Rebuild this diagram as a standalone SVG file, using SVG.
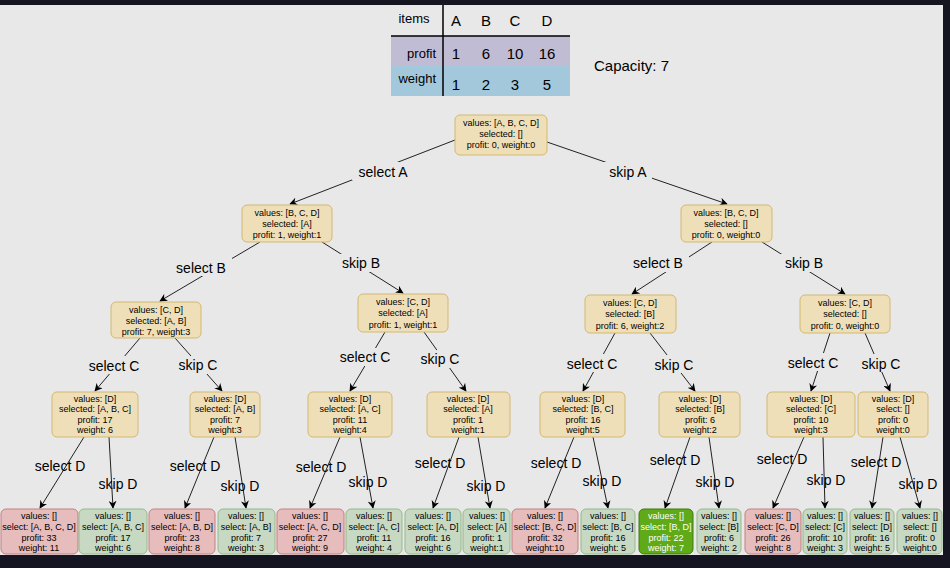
<svg xmlns="http://www.w3.org/2000/svg" width="950" height="568" viewBox="0 0 950 568">
<defs>
<marker id="ar" viewBox="0 0 10 10" refX="9" refY="5" markerWidth="8" markerHeight="8" orient="auto-start-reverse" markerUnits="userSpaceOnUse"><path d="M0,0 L10,5 L0,10 L3,5 z" fill="#000"/></marker>
<style>
text{font-family:"Liberation Sans",Arial,sans-serif;}
.n rect{fill:#efdfb8;stroke:#d3b870;stroke-width:1}
.r rect{fill:#e6bcbc;stroke:#c58080;stroke-width:1}
.g rect{fill:#c7d9c2;stroke:#97b98c;stroke-width:1}
.b rect{fill:#60a917;stroke:#3e7a10;stroke-width:1}
.n text,.r text,.g text,.b text{font-size:9px;text-anchor:middle}
.b text{fill:#fff}
.c line{stroke:#222;stroke-width:1;marker-end:url(#ar)}
.l{font-size:14px;text-anchor:middle}
.t{font-size:15px;text-anchor:middle}
</style>
</defs>
<rect width="950" height="568" fill="#141520"/>
<rect x="0" y="5" width="943" height="550" fill="#e8e8e8"/>
<g id="table">
<rect x="391" y="36" width="179" height="30" fill="#c0bcd4"/>
<rect x="391" y="66" width="179" height="30" fill="#a3c8dc"/>
<line x1="443" y1="5" x2="443" y2="96" stroke="#000" stroke-width="1.5"/>
<line x1="391" y1="36" x2="570" y2="36" stroke="#000" stroke-width="1.5"/>
<text x="414" y="23" font-size="13" text-anchor="middle">items</text>
<text x="436" y="58" font-size="13" text-anchor="end">profit</text>
<text x="436" y="83" font-size="13" text-anchor="end">weight</text>
<text class="t" x="456" y="26">A</text><text class="t" x="486" y="26">B</text><text class="t" x="515" y="26">C</text><text class="t" x="547" y="26">D</text>
<text class="t" x="456" y="59">1</text><text class="t" x="486" y="59">6</text><text class="t" x="515" y="59">10</text><text class="t" x="547" y="59">16</text>
<text class="t" x="456" y="90">1</text><text class="t" x="486" y="90">2</text><text class="t" x="515" y="90">3</text><text class="t" x="547" y="90">5</text>
</g>
<text id="capacity" x="594" y="71" font-size="15">Capacity: 7</text>
<g class="c" id="connectors">
<line x1="455" y1="140" x2="290" y2="204"/>
<line x1="547" y1="142" x2="727" y2="204"/>
<line x1="260" y1="242" x2="160" y2="301"/>
<line x1="322" y1="242" x2="403" y2="293"/>
<line x1="712" y1="242" x2="632" y2="294"/>
<line x1="762" y1="242" x2="845" y2="294"/>
<line x1="140" y1="338" x2="95" y2="391"/>
<line x1="175" y1="338" x2="222" y2="391"/>
<line x1="385" y1="332" x2="350" y2="391"/>
<line x1="424" y1="332" x2="466" y2="391"/>
<line x1="615" y1="333" x2="583" y2="391"/>
<line x1="650" y1="333" x2="695" y2="391"/>
<line x1="830" y1="333" x2="811" y2="391"/>
<line x1="865" y1="333" x2="890" y2="391"/>
<line x1="84" y1="437" x2="40" y2="508"/>
<line x1="109" y1="437" x2="113" y2="508"/>
<line x1="214" y1="437" x2="185" y2="508"/>
<line x1="235" y1="437" x2="246" y2="508"/>
<line x1="340" y1="437" x2="310" y2="508"/>
<line x1="360" y1="437" x2="373" y2="508"/>
<line x1="459" y1="437" x2="433" y2="508"/>
<line x1="478" y1="437" x2="490" y2="508"/>
<line x1="574" y1="437" x2="545" y2="508"/>
<line x1="593" y1="437" x2="608" y2="508"/>
<line x1="690" y1="437" x2="665" y2="508"/>
<line x1="709" y1="437" x2="719" y2="508"/>
<line x1="804" y1="437" x2="773" y2="508"/>
<line x1="823" y1="437" x2="825" y2="508"/>
<line x1="883" y1="437" x2="872" y2="508"/>
<line x1="900" y1="437" x2="920" y2="508"/>
</g>
<g id="labels">
<rect x="352" y="162" width="62" height="18" fill="#e8e8e8"/><text class="l" x="383" y="177">select A</text>
<rect x="602" y="162" width="50" height="18" fill="#e8e8e8"/><text class="l" x="628" y="177">skip A</text>
<rect x="170" y="258" width="62" height="18" fill="#e8e8e8"/><text class="l" x="201" y="273">select B</text>
<rect x="335" y="254" width="50" height="18" fill="#e8e8e8"/><text class="l" x="361" y="268">skip B</text>
<rect x="627" y="254" width="62" height="18" fill="#e8e8e8"/><text class="l" x="658" y="268">select B</text>
<rect x="778" y="254" width="50" height="18" fill="#e8e8e8"/><text class="l" x="804" y="268">skip B</text>
<rect x="83" y="356" width="62" height="18" fill="#e8e8e8"/><text class="l" x="114" y="371">select C</text>
<rect x="173" y="356" width="50" height="18" fill="#e8e8e8"/><text class="l" x="198" y="370">skip C</text>
<rect x="334" y="348" width="62" height="18" fill="#e8e8e8"/><text class="l" x="365" y="362">select C</text>
<rect x="414" y="350" width="50" height="18" fill="#e8e8e8"/><text class="l" x="440" y="364">skip C</text>
<rect x="560" y="354" width="62" height="18" fill="#e8e8e8"/><text class="l" x="592" y="369">select C</text>
<rect x="648" y="355" width="50" height="18" fill="#e8e8e8"/><text class="l" x="674" y="370">skip C</text>
<rect x="782" y="353" width="62" height="18" fill="#e8e8e8"/><text class="l" x="813" y="368">select C</text>
<rect x="855" y="354" width="50" height="18" fill="#e8e8e8"/><text class="l" x="881" y="369">skip C</text>
<text class="l" x="60" y="471">select D</text><text class="l" x="118" y="489">skip D</text>
<text class="l" x="195" y="471">select D</text><text class="l" x="240" y="491">skip D</text>
<text class="l" x="321" y="472">select D</text><text class="l" x="368" y="487">skip D</text>
<text class="l" x="440" y="468">select D</text><text class="l" x="486" y="491">skip D</text>
<text class="l" x="556" y="468">select D</text><text class="l" x="602" y="486">skip D</text>
<text class="l" x="675" y="465">select D</text><text class="l" x="715" y="487">skip D</text>
<text class="l" x="782" y="464">select D</text><text class="l" x="826" y="485">skip D</text>
<text class="l" x="876" y="467">select D</text><text class="l" x="918" y="489">skip D</text>
</g>
<g id="root" class="n"><rect x="455" y="115" width="92" height="40" rx="5"/><text x="501" y="126">values: [A, B, C, D]</text><text x="501" y="137">selected: []</text><text x="501" y="148">profit: 0, weight:0</text></g>
<g id="n_A" class="n"><rect x="242" y="205" width="90" height="37" rx="5"/><text x="287" y="216">values: [B, C, D]</text><text x="287" y="227">selected: [A]</text><text x="287" y="238">profit: 1, weight:1</text></g>
<g id="n_skipA" class="n"><rect x="681" y="205" width="91" height="37" rx="5"/><text x="726" y="216">values: [B, C, D]</text><text x="726" y="227">selected: []</text><text x="726" y="238">profit: 0, weight:0</text></g>
<g id="n_AB" class="n"><rect x="111" y="302" width="90" height="36" rx="5"/><text x="156" y="313">values: [C, D]</text><text x="156" y="324">selected: [A, B]</text><text x="156" y="335">profit: 7, weight:3</text></g>
<g id="n_A_" class="n"><rect x="358" y="294" width="90" height="38" rx="5"/><text x="403" y="305">values: [C, D]</text><text x="403" y="316">selected: [A]</text><text x="403" y="328">profit: 1, weight:1</text></g>
<g id="n_B" class="n"><rect x="585" y="295" width="91" height="38" rx="5"/><text x="630" y="306">values: [C, D]</text><text x="630" y="317">selected: [B]</text><text x="630" y="329">profit: 6, weight:2</text></g>
<g id="n_none" class="n"><rect x="800" y="295" width="90" height="38" rx="5"/><text x="845" y="306">values: [C, D]</text><text x="845" y="317">selected: []</text><text x="845" y="329">profit: 0, weight:0</text></g>
<g id="n_ABC" class="n"><rect x="52" y="392" width="86" height="45" rx="5"/><text x="95" y="402">values: [D]</text><text x="95" y="412">selected: [A, B, C]</text><text x="95" y="423">profit: 17</text><text x="95" y="433">weight: 6</text></g>
<g id="n_AB_" class="n"><rect x="190" y="392" width="70" height="45" rx="5"/><text x="225" y="402">values: [D]</text><text x="225" y="412">selected: [A, B]</text><text x="225" y="423">profit: 7</text><text x="225" y="433">weight:3</text></g>
<g id="n_AC" class="n"><rect x="308" y="392" width="84" height="45" rx="5"/><text x="350" y="402">values: [D]</text><text x="350" y="412">selected: [A, C]</text><text x="350" y="423">profit: 11</text><text x="350" y="433">weight:4</text></g>
<g id="n_A__" class="n"><rect x="427" y="392" width="83" height="45" rx="5"/><text x="468" y="402">values: [D]</text><text x="468" y="412">selected: [A]</text><text x="468" y="423">profit: 1</text><text x="468" y="433">weight:1</text></g>
<g id="n_BC" class="n"><rect x="540" y="392" width="85" height="45" rx="5"/><text x="583" y="402">values: [D]</text><text x="583" y="412">selected: [B, C]</text><text x="583" y="423">profit: 16</text><text x="583" y="433">weight:5</text></g>
<g id="n_B_" class="n"><rect x="659" y="392" width="81" height="45" rx="5"/><text x="700" y="402">values: [D]</text><text x="700" y="412">selected: [B]</text><text x="700" y="423">profit: 6</text><text x="700" y="433">weight:2</text></g>
<g id="n_C" class="n"><rect x="767" y="392" width="88" height="45" rx="5"/><text x="811" y="402">values: [D]</text><text x="811" y="412">selected: [C]</text><text x="811" y="423">profit: 10</text><text x="811" y="433">weight:3</text></g>
<g id="n_0" class="n"><rect x="858" y="392" width="70" height="45" rx="5"/><text x="893" y="402">values: [D]</text><text x="893" y="412">select: []</text><text x="893" y="423">profit: 0</text><text x="893" y="433">weight:0</text></g>
<g id="l1" class="r"><rect x="1" y="509" width="77" height="45" rx="5"/><text x="39" y="519">values: []</text><text x="39" y="530">select: [A, B, C, D]</text><text x="39" y="541">profit: 33</text><text x="39" y="551">weight: 11</text></g>
<g id="l2" class="g"><rect x="79" y="509" width="68" height="45" rx="5"/><text x="113" y="519">values: []</text><text x="113" y="530">select: [A, B, C]</text><text x="113" y="541">profit: 17</text><text x="113" y="551">weight: 6</text></g>
<g id="l3" class="r"><rect x="149" y="509" width="66" height="45" rx="5"/><text x="182" y="519">values: []</text><text x="182" y="530">select: [A, B, D]</text><text x="182" y="541">profit: 23</text><text x="182" y="551">weight: 8</text></g>
<g id="l4" class="g"><rect x="218" y="509" width="57" height="45" rx="5"/><text x="246" y="519">values: []</text><text x="246" y="530">select: [A, B]</text><text x="246" y="541">profit: 7</text><text x="246" y="551">weight: 3</text></g>
<g id="l5" class="r"><rect x="277" y="509" width="67" height="45" rx="5"/><text x="310" y="519">values: []</text><text x="310" y="530">select: [A, C, D]</text><text x="310" y="541">profit: 27</text><text x="310" y="551">weight: 9</text></g>
<g id="l6" class="g"><rect x="346" y="509" width="56" height="45" rx="5"/><text x="374" y="519">values: []</text><text x="374" y="530">select: [A, C]</text><text x="374" y="541">profit: 11</text><text x="374" y="551">weight: 4</text></g>
<g id="l7" class="g"><rect x="405" y="509" width="56" height="45" rx="5"/><text x="433" y="519">values: []</text><text x="433" y="530">select: [A, D]</text><text x="433" y="541">profit: 16</text><text x="433" y="551">weight: 6</text></g>
<g id="l8" class="g"><rect x="463" y="509" width="47" height="45" rx="5"/><text x="487" y="519">values: []</text><text x="487" y="530">select: [A]</text><text x="487" y="541">profit: 1</text><text x="487" y="551">weight:1</text></g>
<g id="l9" class="r"><rect x="512" y="509" width="66" height="45" rx="5"/><text x="545" y="519">values: []</text><text x="545" y="530">select: [B, C, D]</text><text x="545" y="541">profit: 32</text><text x="545" y="551">weight:10</text></g>
<g id="l10" class="g"><rect x="581" y="509" width="54" height="45" rx="5"/><text x="608" y="519">values: []</text><text x="608" y="530">select: [B, C]</text><text x="608" y="541">profit: 16</text><text x="608" y="551">weight: 5</text></g>
<g id="l11" class="b"><rect x="639" y="509" width="54" height="45" rx="5"/><text x="666" y="519">values: []</text><text x="666" y="530">select: [B, D]</text><text x="666" y="541">profit: 22</text><text x="666" y="551">weight: 7</text></g>
<g id="l12" class="g"><rect x="697" y="509" width="44" height="45" rx="5"/><text x="719" y="519">values: []</text><text x="719" y="530">select: [B]</text><text x="719" y="541">profit: 6</text><text x="719" y="551">weight: 2</text></g>
<g id="l13" class="r"><rect x="745" y="509" width="56" height="45" rx="5"/><text x="773" y="519">values: []</text><text x="773" y="530">select: [C, D]</text><text x="773" y="541">profit: 26</text><text x="773" y="551">weight: 8</text></g>
<g id="l14" class="g"><rect x="803" y="509" width="44" height="45" rx="5"/><text x="825" y="519">values: []</text><text x="825" y="530">select: [C]</text><text x="825" y="541">profit: 10</text><text x="825" y="551">weight: 3</text></g>
<g id="l15" class="g"><rect x="850" y="509" width="44" height="45" rx="5"/><text x="872" y="519">values: []</text><text x="872" y="530">select: [D]</text><text x="872" y="541">profit: 16</text><text x="872" y="551">weight: 5</text></g>
<g id="l16" class="g"><rect x="897" y="509" width="45" height="45" rx="5"/><text x="920" y="519">values: []</text><text x="920" y="530">select: []</text><text x="920" y="541">profit: 0</text><text x="920" y="551">weight:0</text></g>
</svg>
